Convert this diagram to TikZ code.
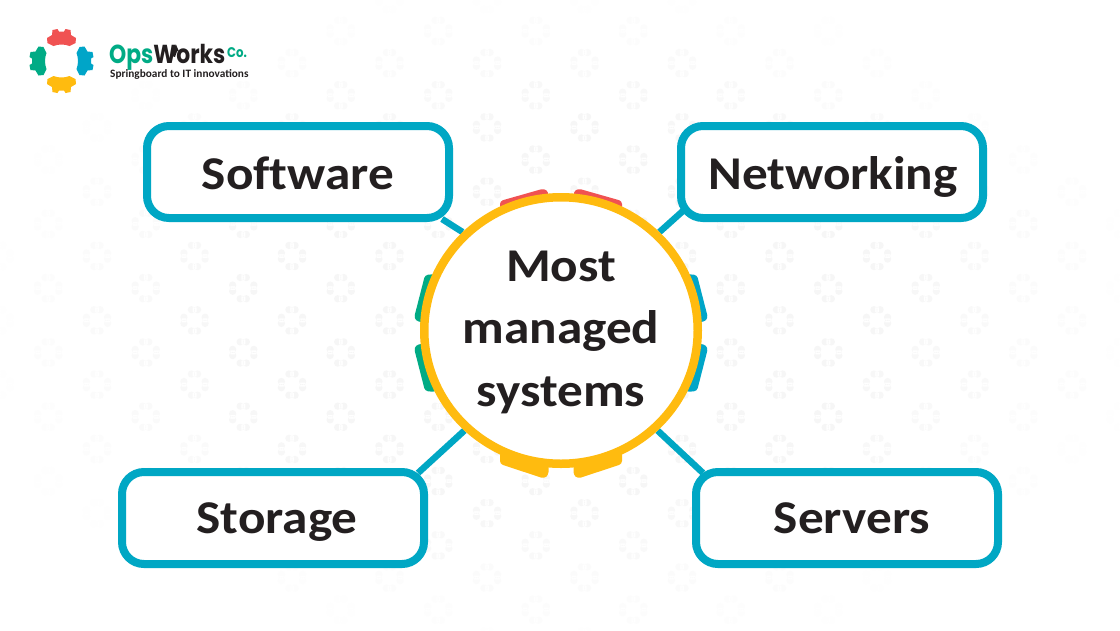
\documentclass[tikz,border=0pt]{standalone}
\usepackage{fontspec}
\setmainfont{Carlito}[FakeStretch=1.09,Ligatures=NoCommon]
\newfontfamily\logofont{Poppins}[FakeStretch=0.84]
\newfontfamily\tagfont{Carlito}
\usetikzlibrary{backgrounds,shapes.geometric}
\definecolor{tealc}{HTML}{00A7C4}
\definecolor{ringc}{HTML}{FFBB0F}
\definecolor{redc}{HTML}{F05252}
\definecolor{greenc}{HTML}{00AB85}
\definecolor{bluec}{HTML}{00A5C8}
\definecolor{inkc}{HTML}{231F20}
\definecolor{patc}{HTML}{F6F6F6}
\newcommand{\lobepath}{(-14,-18) -- (-14.5,-23) -- (-9.5,-26) -- (-9,-31) -- (-4,-32) -- (-2.5,-29.5) -- (2.5,-29.5) -- (4,-32) -- (9,-31) -- (9.5,-26) -- (14.5,-23) -- (14,-18) -- (8,-15) .. controls (3,-17) and (-3,-17) .. (-8,-15) -- cycle}
\newcommand{\peanutpath}{(-3.1,-10.6) circle[radius=3.6] (3.1,-10.6) circle[radius=3.6] (-2,-13) rectangle (2,-8.2)}
\tikzset{
 cardbox/.style={draw=tealc,line width=8pt,fill=white,rounded corners=22pt,minimum width=302pt,minimum height=92pt,inner sep=0pt,outer sep=4pt},
 cardtext/.style={font=\fontsize{47}{50}\selectfont\bfseries,text=inkc,inner sep=0pt,anchor=base},
 link/.style={draw=tealc,line width=6.5pt},
 pad/.style={rounded corners=3pt}
}
\begin{document}
\begin{tikzpicture}[x=1pt,y=-1pt]
\useasboundingbox (0,0) rectangle (1120,630);
% nodes
\node[cardbox] (soft) at (298,172) {};
\node[cardbox] (netw) at (832,172) {};
\node[cardbox] (stor) at (273,518) {};
\node[cardbox] (serv) at (847,518) {};
\node[cardtext] (softl) at (298,189) {Software};
\node[cardtext] (netwl) at (833,189) {Networking};
\node[cardtext] (storl) at (277,533) {Storage};
\node[cardtext] (servl) at (852,533) {Servers};
\node[ellipse,draw=ringc,line width=8.5pt,fill=white,minimum width=273.5pt,minimum height=266.5pt,inner sep=0pt] (hub) at (561,330.5) {};
\node[align=center,text=inkc,inner sep=0pt,font=\fontsize{47}{62.5}\selectfont\bfseries] (hubl) at (561,332) {Most\\managed\\systems};
% logo
\node[anchor=base west,inner sep=0pt,text depth=0pt,font=\logofont\bfseries\fontsize{26}{26}\selectfont,text=inkc] (brand) at (109,63) {\textcolor{greenc}{Ops}Works};
\node[anchor=base west,inner sep=0pt,font=\logofont\bfseries\fontsize{14}{14}\selectfont,text=greenc] (brandco) at (227,57) {Co.};
\node[anchor=base west,inner sep=0pt,font=\tagfont\bfseries\fontsize{11.3}{12}\selectfont,text=inkc] (brandtag) at (110,77) {Springboard to IT innovations};
\begin{scope}[on background layer]
 \fill[white] (0,0) rectangle (1120,630);
 % faint pattern, fading towards the edges
 \foreach \i in {0,...,11}{
  \foreach \j in {0,...,10}{
   \foreach \dx/\dy in {0/0,48.75/32.15}{
    \pgfmathsetmacro{\px}{-0.5+97.5*\i+\dx}
    \pgfmathsetmacro{\py}{-1.2+64.3*\j+\dy}
    \pgfmathsetmacro{\dd}{sqrt(((\px-560)/560)^2+((\py-315)/315)^2)}
    \pgfmathtruncatemacro{\tt}{max(0,min(100,(1.08-\dd)*200))}
    \foreach \a in {0,90,180,270}{
     \fill[patc!\tt!white,shift={(\px,\py)},rotate=\a] \peanutpath;
    }
   }
  }
 }
 % logo gear
 \fill[redc,shift={(61.5,61)}] \lobepath;
 \fill[greenc,shift={(61.5,61)},rotate=90] \lobepath;
 \fill[ringc,shift={(61.5,61)},rotate=180] \lobepath;
 \fill[bluec,shift={(61.5,61)},rotate=270] \lobepath;
 % arcs behind the circle
 \fill[redc,pad] (500,210) -- (500,201) -- (544,188.5) -- (548.5,192) -- (548.5,210) -- cycle;
 \fill[redc,pad] (622,210) -- (622,201) -- (578,188.5) -- (573.5,192) -- (573.5,210) -- cycle;
 \fill[ringc,pad] (500,452) -- (500,464) -- (544,478.5) -- (548.5,475) -- (548.5,452) -- cycle;
 \fill[ringc,pad] (622,452) -- (622,464) -- (578,478.5) -- (573.5,475) -- (573.5,452) -- cycle;
 \fill[greenc,pad] (436,274) -- (425,275) -- (414,318) -- (418,322) -- (436,322) -- cycle;
 \fill[greenc,pad] (436,392) -- (425,391) -- (414,348) -- (418,344) -- (436,344) -- cycle;
 \fill[bluec,pad] (686,274) -- (697,275) -- (708,318) -- (704,322) -- (686,322) -- cycle;
 \fill[bluec,pad] (686,392) -- (697,391) -- (708,348) -- (704,344) -- (686,344) -- cycle;
 % connectors
 \draw[link] (hub.135) -- ([shift={(-11,-3)}]soft.south east);
 \draw[link] (hub.45) -- ([shift={(7,-12)}]netw.south west);
 \draw[link] (hub.226) -- ([shift={(-10,5)}]stor.north east);
 \draw[link] (hub.-46) -- ([shift={(11,5)}]serv.north west);
\end{scope}
% arrow of the W in the logo
\fill[inkc] (172,56) -- (174,51) -- (172.5,51) -- (176,44.5) -- (179,51.5) -- (177.2,51) -- (175,57) -- cycle;
\end{tikzpicture}
\end{document}
